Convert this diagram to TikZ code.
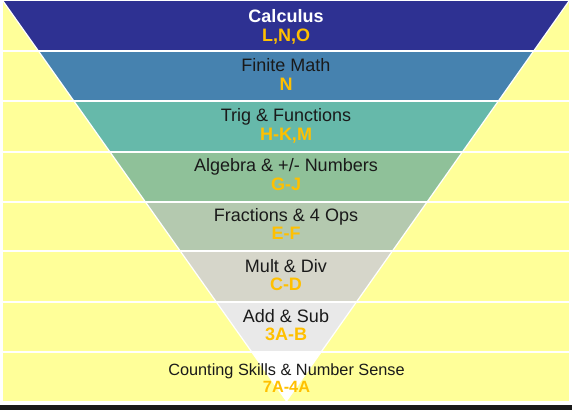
\documentclass[tikz,border=0pt]{standalone}
\usepackage{fontspec}
\setmainfont{Liberation Sans}
\usetikzlibrary{positioning}
\definecolor{calcblue}{RGB}{46,49,146}
\definecolor{finblue}{RGB}{70,130,175}
\definecolor{trigteal}{RGB}{102,185,170}
\definecolor{alggreen}{RGB}{143,193,153}
\definecolor{fracgreen}{RGB}{180,201,175}
\definecolor{multgray}{RGB}{214,214,202}
\definecolor{addgray}{RGB}{233,233,233}
\definecolor{paleyellow}{RGB}{255,255,153}
\definecolor{codeorange}{RGB}{255,192,0}
\definecolor{inkgray}{RGB}{26,26,26}
\newcommand{\og}[1]{\textcolor{codeorange}{\bfseries #1}}

\begin{document}
\begin{tikzpicture}[x=1pt,y=1pt,
    ttl/.style={anchor=base, inner sep=0pt, text=inkgray, font=\fontsize{18}{21}\selectfont},
    small/.style={font=\fontsize{16.3}{19}\selectfont},
    sep/.style={white, line width=2pt}]
  \useasboundingbox (0,0) rectangle (572,410);
  \fill[white] (0,0) rectangle (572,410);
  \fill[black!90] (0,0) rectangle (572,5);
  \fill[paleyellow] (3,9) rectangle (569,409);
  % the funnel, one band per level
  \begin{scope}
    \clip (3,409) -- (569,409) -- (286.5,9) -- cycle;
    \fill[calcblue] (0,359) rectangle (572,409);
    \fill[finblue] (0,309) rectangle (572,359);
    \fill[trigteal] (0,258) rectangle (572,309);
    \fill[alggreen] (0,208) rectangle (572,258);
    \fill[fracgreen] (0,159) rectangle (572,208);
    \fill[multgray] (0,108) rectangle (572,159);
    \fill[addgray] (0,58) rectangle (572,108);
    \fill[white] (0,9) rectangle (572,58);
  \end{scope}
  \draw[white, line width=1.2pt] (3,409) -- (286.5,9) -- (569,409);
  \foreach \y in {359,309,258,208,159,108,58}
    \draw[sep] (3,\y) -- (569,\y);
  % labels
  \node[ttl, text=white, font=\fontsize{18}{21}\selectfont\bfseries] (calc) at (286,387) {Calculus};
  \node[ttl, below=18.5pt of calc.base, anchor=base] (calc-code) {\og{L,N,O}};
  \node[ttl] (fin) at (286,338) {Finite Math};
  \node[ttl, below=18.5pt of fin.base, anchor=base] (fin-code) {\og{N}};
  \node[ttl] (trig) at (286,288) {Trig \& Functions};
  \node[ttl, below=18.5pt of trig.base, anchor=base] (trig-code) {\og{H-K,M}};
  \node[ttl] (alg) at (286,238) {Algebra \& +/- Numbers};
  \node[ttl, below=18.5pt of alg.base, anchor=base] (alg-code) {\og{G-J}};
  \node[ttl] (frac) at (286,189) {Fractions \& 4 Ops};
  \node[ttl, below=18.5pt of frac.base, anchor=base] (frac-code) {\og{E-F}};
  \node[ttl] (mult) at (286,138) {Mult \& Div};
  \node[ttl, below=18.5pt of mult.base, anchor=base] (mult-code) {\og{C-D}};
  \node[ttl] (add) at (286,88) {Add \& Sub};
  \node[ttl, below=18.5pt of add.base, anchor=base] (add-code) {\og{3A-B}};
  \node[ttl, small] (count) at (286.5,35) {Counting Skills \& Number Sense};
  \node[ttl, small, below=17pt of count.base, anchor=base] (count-code) {\og{7A-4A}};
\end{tikzpicture}
\end{document}
